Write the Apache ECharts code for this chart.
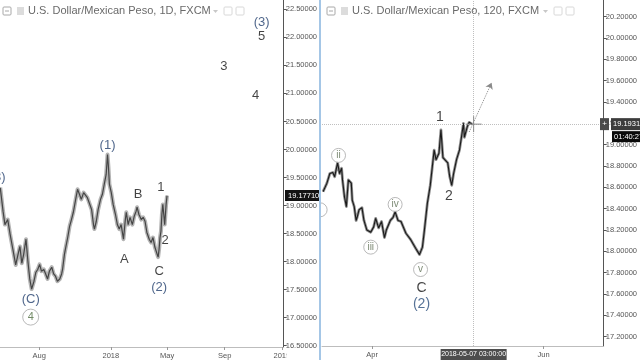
<!DOCTYPE html>
<html><head><meta charset="utf-8">
<script src="https://cdn.jsdelivr.net/npm/echarts@6/dist/echarts.min.js"></script>
<style>
html,body{margin:0;padding:0;background:#fff;width:640px;height:360px;overflow:hidden;}
#c1{position:absolute;left:0;top:0;width:320px;height:360px;}
#c2{position:absolute;left:321px;top:0;width:319px;height:360px;}
#sep{position:absolute;left:319px;top:0;width:2px;height:360px;background:#a4c6e6;z-index:5;}
</style></head><body>
<div id="c1"></div><div id="c2"></div><div id="sep"></div>
<script>
const FONT = '"Liberation Sans", Arial, Helvetica, sans-serif';

// ---------- LEFT PANEL (daily) ----------
const leftTitle = 'U.S. Dollar/Mexican Peso, 1D, FXCM';
const leftDates = ['2017-05-10','2017-05-16','2017-05-20','2017-05-26','2017-05-31','2017-06-06','2017-06-12','2017-06-17','2017-06-21','2017-06-25',
'2017-06-29','2017-07-04','2017-07-08','2017-07-12','2017-07-16','2017-07-21','2017-07-25','2017-07-29','2017-08-02','2017-08-06',
'2017-08-11','2017-08-15','2017-08-19','2017-08-23','2017-08-28','2017-09-01','2017-09-05','2017-09-09','2017-09-14','2017-09-18',
'2017-09-20','2017-09-24','2017-09-26','2017-10-01','2017-10-05','2017-10-09','2017-10-13','2017-10-18','2017-10-22','2017-10-26',
'2017-10-30','2017-11-04','2017-11-08','2017-11-12','2017-11-16','2017-11-21','2017-11-25','2017-11-27','2017-12-01','2017-12-05',
'2017-12-10','2017-12-14','2017-12-18','2017-12-22','2017-12-25','2017-12-27','2017-12-29','2018-01-02','2018-01-06','2018-01-11',
'2018-01-15','2018-01-19','2018-01-23','2018-01-28','2018-02-01','2018-02-03','2018-02-07','2018-02-11','2018-02-16','2018-02-20',
'2018-02-24','2018-02-26','2018-03-02','2018-03-07','2018-03-11','2018-03-15','2018-03-19','2018-03-24','2018-03-28','2018-04-01',
'2018-04-05','2018-04-10','2018-04-12','2018-04-14','2018-04-16','2018-04-18','2018-04-20','2018-04-22','2018-04-24','2018-04-26',
'2018-04-29','2018-05-01'];
const leftPrices = [19.32,18.90,18.66,18.75,18.49,18.22,17.94,18.13,18.27,17.97,
18.13,18.40,18.01,17.69,17.51,17.65,17.81,17.86,17.95,17.83,
17.86,17.78,17.69,17.83,17.90,17.78,17.74,17.65,17.69,17.78,
17.86,18.13,18.22,18.43,18.63,18.75,18.88,19.11,19.29,19.20,
19.11,19.23,19.23,19.14,19.16,18.93,18.66,18.58,18.72,18.93,
19.11,19.20,19.38,19.55,19.91,19.68,19.38,19.23,19.02,18.84,
18.66,18.58,18.66,18.40,18.75,18.88,18.66,18.79,18.66,18.81,
18.90,18.97,18.84,18.75,18.79,18.72,18.52,18.40,18.34,18.43,
18.26,18.13,18.08,18.22,18.43,18.54,18.84,19.02,18.84,18.66,
19.02,19.1771];
const leftLastPrice = 19.1771;
const leftLastText = '19.17710';
const leftYTicks = [16.5,17,17.5,18,18.5,19,19.5,20,20.5,21,21.5,22,22.5];
const leftXTickDates = ['2017-08-01','2018-01-01','2018-05-01','2018-09-01','2019-01-01'];
const leftXTickLabels = ['Aug','2018','May','Sep','2019'];
const leftNoteTexts  = ['(3)','(1)','(3)','5','3','4','B','1','2','A','C','(2)','(C)','4'];
const leftNoteDates  = ['2017-05-04 05:00','2017-12-25','2018-11-19','2018-11-19','2018-08-30','2018-11-06','2018-02-28','2018-04-18','2018-04-27','2018-01-30','2018-04-14','2018-04-14','2017-07-14','2017-07-14'];
const leftNotePrices = [19.50,20.07,22.26,22.01,21.49,20.96,19.20,19.32,18.38,18.04,17.83,17.54,17.33,17.01];
const leftNoteKinds  = ['degree','degree','degree','minor','minor','minor','minor','minor','minor','minor','minor','degree','degree','circle'];

// ---------- RIGHT PANEL (120 min) ----------
const rightTitle = 'U.S. Dollar/Mexican Peso, 120, FXCM';
const rightTimes = ['2018-03-14 14:00','2018-03-15 23:00','2018-03-17 00:00','2018-03-18 01:00','2018-03-18 17:00','2018-03-19 18:00','2018-03-20 11:00','2018-03-21 04:00','2018-03-21 12:00','2018-03-22 05:00',
'2018-03-22 21:00','2018-03-23 14:00','2018-03-24 15:00','2018-03-24 23:00','2018-03-25 16:00','2018-03-26 08:00','2018-03-26 17:00','2018-03-27 09:00','2018-03-28 10:00','2018-03-29 03:00',
'2018-03-30 04:00','2018-03-31 13:00','2018-04-01 14:00','2018-04-02 07:00','2018-04-03 08:00','2018-04-04 09:00','2018-04-05 10:00','2018-04-06 02:00','2018-04-07 12:00','2018-04-08 12:00',
'2018-04-09 05:00','2018-04-10 06:00','2018-04-11 07:00','2018-04-13 01:00','2018-04-14 18:00','2018-04-16 12:00','2018-04-17 21:00','2018-04-18 22:00','2018-04-19 15:00','2018-04-20 16:00',
'2018-04-21 17:00','2018-04-23 02:00','2018-04-23 18:00','2018-04-24 19:00','2018-04-25 12:00','2018-04-26 05:00','2018-04-26 21:00','2018-04-27 22:00','2018-04-28 15:00','2018-04-29 08:00',
'2018-04-30 00:00','2018-05-01 01:00','2018-05-02 02:00','2018-05-02 19:00','2018-05-03 12:00','2018-05-03 20:00','2018-05-04 21:00','2018-05-05 13:00','2018-05-06 14:00'];
const rightPrices = [18.56,18.64,18.73,18.74,18.70,18.83,18.73,18.78,18.67,18.51,
18.42,18.67,18.64,18.48,18.42,18.29,18.32,18.39,18.41,18.29,
18.20,18.18,18.23,18.31,18.22,18.28,18.13,18.20,18.29,18.32,
18.37,18.29,18.28,18.17,18.11,18.03,17.97,18.04,18.20,18.45,
18.62,18.95,18.86,18.92,19.14,18.88,18.86,18.83,18.70,18.62,
18.73,18.86,18.95,19.07,19.20,19.07,19.17,19.21,19.19316];
const rightYTicks = [17.2,17.4,17.6,17.8,18.0,18.2,18.4,18.6,18.8,19.0,19.2,19.4,19.6,19.8,20.0,20.2];
const rightXTickDates = ['2018-04-01','2018-06-01'];
const rightXTickLabels = ['Apr','Jun'];
const rightNoteTexts  = ['i','ii','iii','iv','v','C','(2)','1','2'];
const rightNoteDates  = ['2018-03-13 13:00','2018-03-20 02:00','2018-03-31 13:00','2018-04-09 05:00','2018-04-18 06:00','2018-04-18 14:00','2018-04-18 14:00','2018-04-25 04:00','2018-04-28 07:00'];
const rightNotePrices = [18.39,18.90,18.04,18.44,17.83,17.66,17.51,19.26,18.52];
const rightNoteKinds  = ['circle','circle','circle','circle','circle','minor','degree','minor','minor'];
const crossTime = '2018-05-07 03:00';
const crossPrice = 19.19316;
const crossPriceText = '19.19316';
const crossTimeText = '2018-05-07 03:00:00';
const countdownText = '01:40:27';
const arrowFrom = ['2018-05-05 13:00', 19.12];
const arrowTo = ['2018-05-13 12:00', 19.58];

function toMs(s){
  const parts = s.split(' ');
  const [Y,M,D] = parts[0].split('-').map(Number);
  const [h,m] = (parts[1]||'00:00').split(':').map(Number);
  return new Date(Y, M-1, D, h, m).getTime();
}
const axisText = {color:'#555', fontSize:7.5, fontFamily:FONT};

function noteSeries(texts, dates, prices, kinds, st){
  const plain = [], circ = [];
  texts.forEach((t,i)=>{
    const item = {value:[toMs(dates[i]), prices[i]], label:{formatter:t}};
    if (kinds[i]==='circle') circ.push(item);
    else { item.label.color = kinds[i]==='degree' ? st.degreeColor : st.minorColor; plain.push(item); }
  });
  return [
    {type:'scatter', clip:false, silent:true, symbolSize:1, itemStyle:{color:'rgba(0,0,0,0)'},
     label:{show:true, position:'inside', fontSize:st.size, fontFamily:FONT}, data:plain, z:10},
    {type:'scatter', clip:false, silent:true, symbol:'circle', symbolSize:st.circle,
     itemStyle:{color:'#fff', borderColor:'#a8a8a8', borderWidth:1},
     label:{show:true, position:'inside', color:st.circleText, fontSize:st.circleFont, fontFamily:FONT}, data:circ, z:10}
  ];
}

function baseOption(cfg){
  const tickMs = cfg.xTickDates.map(toMs);
  const labelMap = {};
  tickMs.forEach((v,i)=>{ labelMap[v] = cfg.xTickLabels[i]; });
  const data = cfg.dates.map((d,i)=>[toMs(d), cfg.prices[i]]);
  return {
    animation:false,
    grid:cfg.grid,
    xAxis:{type:'value', min:toMs(cfg.xMin), max:toMs(cfg.xMax),
      axisLine:{show:true, lineStyle:{color:'#bdbdbd'}},
      axisTick:{show:true, customValues:tickMs, length:3, lineStyle:{color:'#999'}},
      axisLabel:{customValues:tickMs, formatter:v=>labelMap[v]||'', margin:5, ...axisText},
      splitLine:{show:false}},
    yAxis:{type:'value', position:'right', min:cfg.yMin, max:cfg.yMax,
      axisLine:{show:true, lineStyle:{color:'#555'}},
      axisTick:{show:true, customValues:cfg.yTicks, length:3, lineStyle:{color:'#555'}},
      axisLabel:{customValues:cfg.yTicks, formatter:v=>Number(v).toFixed(5), margin:2, ...axisText},
      splitLine:{show:false}},
    series:[
      {type:'line', data:data, symbol:'none', silent:true, lineStyle:{color:cfg.haloColor, width:cfg.haloWidth, join:'round'}, z:2},
      {type:'line', data:data, symbol:'none', silent:true, lineStyle:{color:cfg.lineColor, width:cfg.lineWidth}, z:3,
       markLine:cfg.markLine}
    ].concat(noteSeries(cfg.noteTexts, cfg.noteDates, cfg.notePrices, cfg.noteKinds, cfg.noteStyle))
  };
}

function titleGraphics(title, x0){
  return [
    {type:'rect', x:x0, y:7, shape:{width:8, height:8, r:1}, style:{fill:'#fff', stroke:'#a8a8a8', lineWidth:1}, z:100},
    {type:'line', shape:{x1:x0+2, y1:11, x2:x0+6, y2:11}, style:{stroke:'#a8a8a8', lineWidth:1}, z:100},
    {type:'rect', x:x0+14, y:7, shape:{width:7, height:8}, style:{fill:'#dcdcdc'}, z:100},
    {type:'text', x:x0+25, y:11, style:{text:title, fontSize:11, fontFamily:FONT, fill:'#6a6a6a', verticalAlign:'middle'}, z:100}
  ];
}
function titleTail(xTri){
  return [
    {type:'polygon', shape:{points:[[xTri,10],[xTri+5,10],[xTri+2.5,13]]}, style:{fill:'#c8c8c8'}, z:100},
    {type:'rect', x:xTri+11, y:7, shape:{width:8, height:8, r:1}, style:{fill:'#fff', stroke:'#d8d8d8'}, z:100},
    {type:'rect', x:xTri+23, y:7, shape:{width:8, height:8, r:1}, style:{fill:'#fff', stroke:'#d8d8d8'}, z:100}
  ];
}

// ----- Chart 1 -----
const c1 = echarts.init(document.getElementById('c1'));
c1.setOption(baseOption({
  grid:{left:0, right:35, top:0, bottom:12},
  xMin:'2017-05-09 12:00', xMax:'2019-01-05 00:00', yMin:16.477, yMax:22.666,
  xTickDates:leftXTickDates, xTickLabels:leftXTickLabels, yTicks:leftYTicks,
  dates:leftDates, prices:leftPrices,
  haloColor:'#b4b4b4', haloWidth:4, lineColor:'#454545', lineWidth:1.2,
  markLine:undefined,
  noteTexts:leftNoteTexts, noteDates:leftNoteDates, notePrices:leftNotePrices, noteKinds:leftNoteKinds,
  noteStyle:{degreeColor:'#23406e', minorColor:'#141414', size:13, circle:16, circleText:'#4f6d40', circleFont:11}
}));
const ly = c1.convertToPixel({yAxisIndex:0}, leftLastPrice);
c1.setOption({graphic:[].concat(
  titleGraphics(leftTitle, 3), titleTail(213),
  [
    {type:'rect', x:285, y:ly-5.5, shape:{width:35, height:11}, style:{fill:'#131313'}, z:100},
    {type:'text', x:288, y:ly, style:{text:leftLastText, fontSize:7.5, fontFamily:FONT, fill:'#fff', verticalAlign:'middle'}, z:101},
    {type:'rect', x:286.5, y:349, shape:{width:34, height:11}, style:{fill:'#fff'}, z:100}
  ])});

// ----- Chart 2 -----
const c2 = echarts.init(document.getElementById('c2'));
const crossMs = toMs(crossTime);
c2.setOption(baseOption({
  grid:{left:1, right:29, top:0, bottom:14},
  xMin:'2018-03-14 05:00', xMax:'2018-06-22 09:00', yMin:17.113, yMax:20.357,
  xTickDates:rightXTickDates, xTickLabels:rightXTickLabels, yTicks:rightYTicks,
  dates:rightTimes, prices:rightPrices,
  haloColor:'#8f8f8f', haloWidth:2.8, lineColor:'#1a1a1a', lineWidth:1.1,
  markLine:{silent:true, symbol:'none', label:{show:false},
    lineStyle:{type:'dotted', color:'#bfbfbf', width:1},
    data:[
      {xAxis:crossMs},
      {yAxis:crossPrice},
      [{coord:[toMs(arrowFrom[0]), arrowFrom[1]], symbol:'none'},
       {coord:[toMs(arrowTo[0]), arrowTo[1]], symbol:'arrow', symbolSize:6,
        lineStyle:{type:'dotted', color:'#8a8a8a', width:1}}]
    ]},
  noteTexts:rightNoteTexts, noteDates:rightNoteDates, notePrices:rightNotePrices, noteKinds:rightNoteKinds,
  noteStyle:{degreeColor:'#2c4f7c', minorColor:'#141414', size:14, circle:14, circleText:'#5d6e52', circleFont:10}
}));
const cp = c2.convertToPixel({xAxisIndex:0, yAxisIndex:0}, [crossMs, crossPrice]);
const cx = cp[0], cy = cp[1];
c2.setOption({graphic:[].concat(
  titleGraphics(rightTitle, 6), titleTail(222),
  [
    {type:'line', shape:{x1:cx-8, y1:cy, x2:cx+8, y2:cy}, style:{stroke:'#8c8c8c', lineWidth:1}, z:100},
    {type:'line', shape:{x1:cx, y1:cy-8, x2:cx, y2:cy+8}, style:{stroke:'#8c8c8c', lineWidth:1}, z:100},
    {type:'rect', x:279, y:cy-6, shape:{width:9, height:12}, style:{fill:'#4a4a4a'}, z:100},
    {type:'text', x:283.5, y:cy, style:{text:'+', fontSize:8, fontFamily:FONT, fill:'#fff', align:'center', verticalAlign:'middle'}, z:101},
    {type:'rect', x:290, y:cy-6, shape:{width:30, height:12}, style:{fill:'#3c3c3c'}, z:100},
    {type:'text', x:292, y:cy, style:{text:crossPriceText, fontSize:7.5, fontFamily:FONT, fill:'#fff', verticalAlign:'middle'}, z:101},
    {type:'rect', x:291, y:cy+7, shape:{width:29, height:11}, style:{fill:'#0a0a0a'}, z:100},
    {type:'text', x:293, y:cy+12.5, style:{text:countdownText, fontSize:7.5, fontFamily:FONT, fill:'#fff', verticalAlign:'middle'}, z:101},
    {type:'rect', x:cx-33, y:349, shape:{width:66, height:11}, style:{fill:'#4d4d4d'}, z:100},
    {type:'text', x:cx, y:354.5, style:{text:crossTimeText, fontSize:7, fontFamily:FONT, fill:'#fff', align:'center', verticalAlign:'middle'}, z:101}
  ])});
</script></body></html>
